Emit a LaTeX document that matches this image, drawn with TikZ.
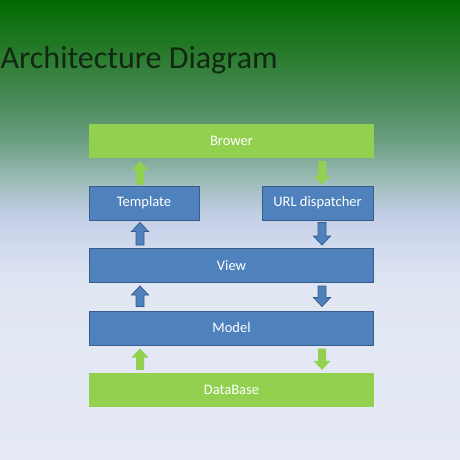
\documentclass[tikz,border=0pt]{standalone}
\usepackage{fontspec}
\setmainfont{Carlito}
\usetikzlibrary{calc}
\definecolor{bgA}{HTML}{006A00}
\definecolor{bgB}{HTML}{267A2A}
\definecolor{bgC}{HTML}{4A8A58}
\definecolor{bgD}{HTML}{6A9E80}
\definecolor{bgE}{HTML}{9DBCB8}
\definecolor{bgF}{HTML}{C3CFE6}
\definecolor{bgG}{HTML}{D3DCF0}
\definecolor{bgH}{HTML}{E1E7F3}
\definecolor{bgI}{HTML}{E5EAF5}
\definecolor{boxgreen}{HTML}{92D050}
\definecolor{boxblue}{HTML}{4F81BD}
\definecolor{boxblueline}{HTML}{385D8A}
\definecolor{titlecol}{HTML}{122812}
\pgfdeclareverticalshading{slidebg}{100bp}{color(0bp)=(bgI); color(25bp)=(bgI); color(43.48bp)=(bgH); color(47.83bp)=(bgG); color(51.63bp)=(bgF); color(55.43bp)=(bgE); color(59.78bp)=(bgD); color(64.13bp)=(bgC); color(69.57bp)=(bgB); color(75bp)=(bgA); color(100bp)=(bgA)}
\tikzset{
  box/.style={rectangle, inner sep=0pt, text=white, font=\fontsize{14.5}{16}\selectfont},
  greenbox/.style={box, fill=boxgreen, minimum height=34pt},
  bluebox/.style={box, fill=boxblue, draw=boxblueline, line width=1pt, minimum height=34pt},
  barrow/.style={to path={let \p1=(\tikztostart), \p2=(\tikztotarget), \p3=($(\tikztotarget)!9pt!(\tikztostart)$) in ({\x1-4pt},{\y1}) -- ({\x1-4pt},{\y3}) -- ({\x1-8.5pt},{\y3}) -- (\x2,\y2) -- ({\x1+8.5pt},{\y3}) -- ({\x1+4pt},{\y3}) -- ({\x1+4pt},{\y1}) -- cycle}},
  greenarrow/.style={barrow, fill=boxgreen},
  bluearrow/.style={barrow, fill=boxblue, draw=boxblueline, line width=0.8pt},
}
\begin{document}
\begin{tikzpicture}[x=1pt,y=-1pt]
\useasboundingbox (0,0) rectangle (460,460);
\clip (0,0) rectangle (460,460);
\shade[shading=slidebg] (0,0) rectangle (460,460);
\node[anchor=base west, text=titlecol, font=\fontsize{32}{38}\selectfont, inner sep=0pt] (title) at (0.5,68) {Architecture Diagram};
\coordinate (L) at (140,0);
\coordinate (R) at (322,0);
\node[greenbox, minimum width=285pt] (brower) at (231.5,141) {Brower};
\node[bluebox, minimum width=110pt] (tpl) at (144,203) {Template};
\node[bluebox, minimum width=111pt] (url) at (317.5,203) {URL dispatcher};
\node[bluebox, minimum width=284pt] (view) at (231.5,265.5) {View};
\node[bluebox, minimum width=284pt] (model) at (231.5,328) {Model};
\node[greenbox, minimum width=285pt] (db) at (231.5,390) {DataBase};
\path[greenarrow] ($(tpl.north -| L)+(0,-1)$) to ($(brower.south -| L)+(0,3)$);
\path[greenarrow] ($(brower.south -| R)+(0,3)$) to ($(url.north -| R)+(0,-1)$);
\path[bluearrow] ($(view.north -| L)+(0,-3)$) to ($(tpl.south -| L)+(0,2)$);
\path[bluearrow] ($(url.south -| R)+(0,2)$) to ($(view.north -| R)+(0,-3)$);
\path[bluearrow] ($(model.north -| L)+(0,-4)$) to ($(view.south -| L)+(0,3)$);
\path[bluearrow] ($(view.south -| R)+(0,3)$) to ($(model.north -| R)+(0,-4)$);
\path[greenarrow] ($(db.north -| L)+(0,-3)$) to ($(model.south -| L)+(0,3)$);
\path[greenarrow] ($(model.south -| R)+(0,3)$) to ($(db.north -| R)+(0,-3)$);
\end{tikzpicture}
\end{document}
